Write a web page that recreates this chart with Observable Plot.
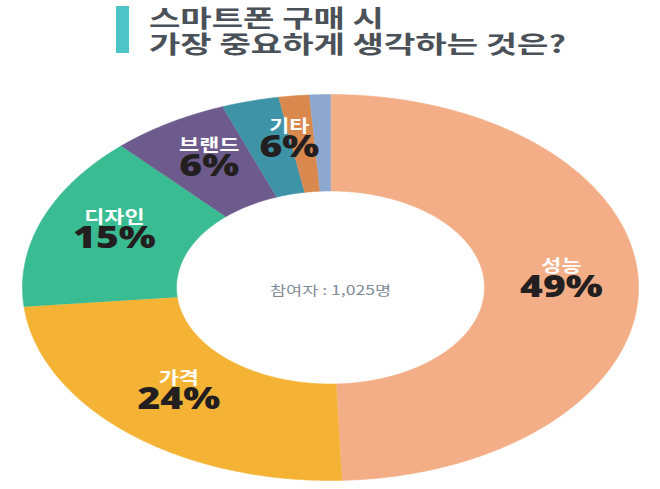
<!DOCTYPE html>
<html><head><meta charset="utf-8">
<script src="https://cdn.jsdelivr.net/npm/d3@7"></script>
<script src="https://cdn.jsdelivr.net/npm/@observablehq/plot@0.6"></script>
<style>
body{margin:0;background:#fff;width:660px;height:489px;overflow:hidden;font-family:"Noto Sans CJK KR","Noto Sans",sans-serif;}
#title{position:relative;height:72px;}
#bar{position:absolute;left:116px;top:6px;width:13px;height:47px;background:#4DC4C8;}
#ttl{position:absolute;left:149px;top:4px;font-size:24px;line-height:26px;font-weight:700;color:#4B5158;transform:scaleX(1.42);transform-origin:0 0;white-space:nowrap;}
#chart svg{display:block;}
</style></head><body>
<div id="title"><div id="bar"></div><div id="ttl">스마트폰 구매 시<br>가장 중요하게 생각하는 것은?</div></div>
<div id="chart"></div>
<script>
// slices (clockwise from 12 o'clock)
const sliceCategories = ["성능", "가격", "디자인", "브랜드", "기타", "기타", "기타"];
const sliceValues = [49.4, 24.0, 14.7, 6.2, 3.0, 1.6, 1.1];
const sliceColors = ["#F3AE87", "#F5B336", "#3ABC92", "#6E5B8D", "#3E93A6", "#D9884E", "#8DA7CF"];
// labels
const labelCategories = ["성능", "가격", "디자인", "브랜드", "기타"];
const labelPercents = ["49%", "24%", "15%", "6%", "6%"];
const centerNote = "참여자 : 1,025명";

const total = d3.sum(sliceValues);
const R_OUT = 1, R_IN = 0.5, R_LABEL = 0.75;
const TAU = 2 * Math.PI;

// build polygons
const points = [];
const spans = [];
let cum = 0;
sliceValues.forEach((v, i) => {
  const a0 = cum / total * TAU, a1 = (cum + v) / total * TAU;
  spans.push({cat: sliceCategories[i], a0, a1});
  const n = Math.max(2, Math.ceil((a1 - a0) / 0.005));
  const key = "s" + i;
  for (let k = 0; k <= n; k++) {
    const a = a0 + (a1 - a0) * k / n;
    points.push({key, color: sliceColors[i], x: R_OUT * Math.sin(a), y: R_OUT * Math.cos(a)});
  }
  for (let k = n; k >= 0; k--) {
    const a = a0 + (a1 - a0) * k / n;
    points.push({key, color: sliceColors[i], x: R_IN * Math.sin(a), y: R_IN * Math.cos(a)});
  }
  cum += v;
});

const labels = labelCategories.map((c, i) => {
  const s = spans.filter(d => d.cat === c);
  const mid = (d3.min(s, d => d.a0) + d3.max(s, d => d.a1)) / 2;
  return {name: c, pct: labelPercents[i], x: R_LABEL * Math.sin(mid), y: R_LABEL * Math.cos(mid)};
});

const chart = Plot.plot({
  width: 660,
  height: 417,
  marginLeft: 22, marginRight: 22, marginTop: 22, marginBottom: 9,
  x: {domain: [-1, 1], axis: null},
  y: {domain: [-1, 1], axis: null},
  color: {type: "identity"},
  style: {background: "#fff", overflow: "visible"},
  marks: [
    Plot.line(points, {x: "x", y: "y", z: "key", fill: "color", stroke: "color", strokeWidth: 0.6, curve: "linear"}),
    Plot.text(labels, {x: "x", y: "y", text: "name", dy: -13, fill: "#ffffff", fontSize: 17.5, fontWeight: 700, fontFamily: "Noto Sans CJK KR"}),
    Plot.text(labels, {x: "x", y: "y", text: "pct", dy: 12, fill: "#231F20", fontSize: 30, fontWeight: 900, fontFamily: "Noto Sans"}),
    Plot.text([centerNote], {frameAnchor: "middle", dy: 7, fill: "#7F8B97", fontSize: 13, fontFamily: "Noto Sans CJK KR"})
  ]
});
document.getElementById("chart").appendChild(chart);

// horizontal stretch of text glyphs (reference picture is widened)
function stretch(el, s) {
  const t = el.getAttribute("transform") || "";
  const x = +el.getAttribute("x") || 0, y = +el.getAttribute("y") || 0;
  el.setAttribute("x", 0); el.setAttribute("y", 0);
  el.setAttribute("transform", `${t} translate(${x},${y}) scale(${s},1)`);
}
const groups = chart.querySelectorAll('g[aria-label="text"]');
const scales = [1.25, 1.3, 1.35];
groups.forEach((g, i) => g.querySelectorAll("text").forEach(el => stretch(el, scales[i] || 1.2)));
</script>
</body></html>
